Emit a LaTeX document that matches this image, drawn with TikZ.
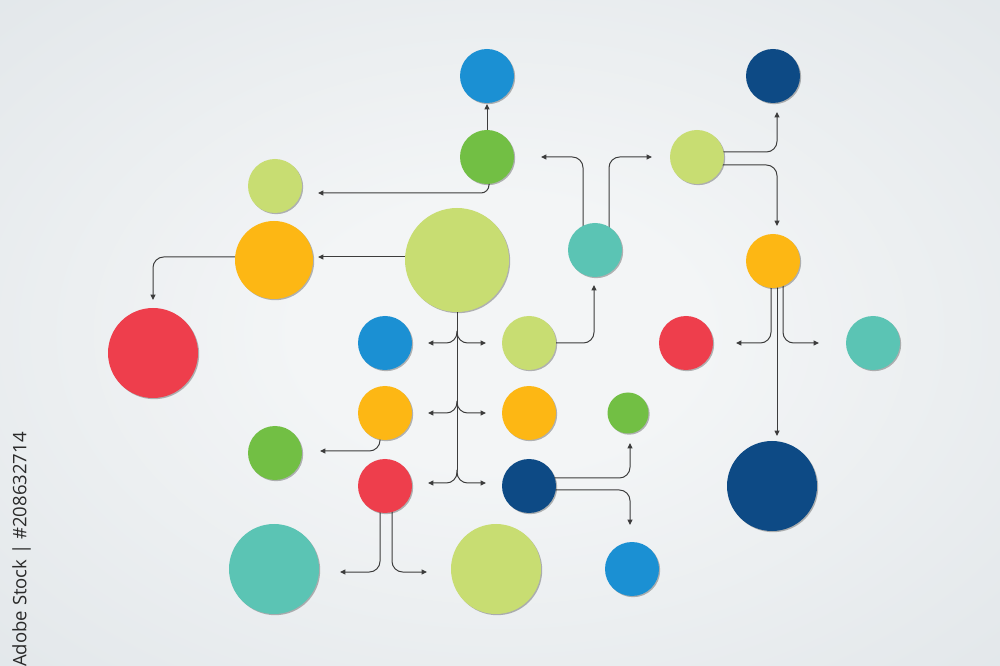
\documentclass[tikz,border=0pt]{standalone}
\usepackage{fontspec}
\newfontfamily\sidefont{Open Sans}
\usetikzlibrary{arrows.meta,shadows}
\definecolor{cLG}{HTML}{C8DD72}
\definecolor{cGreen}{HTML}{72BF44}
\definecolor{cBlue}{HTML}{1B90D3}
\definecolor{cNavy}{HTML}{0D4A85}
\definecolor{cOrange}{HTML}{FDB714}
\definecolor{cRed}{HTML}{EE3E4C}
\definecolor{cTeal}{HTML}{5BC4B4}
\definecolor{wire}{HTML}{3C3C3C}
\definecolor{bgIn}{HTML}{F3F5F6}
\definecolor{bgOut}{HTML}{CCD4DA}
\definecolor{sideText}{HTML}{2A2A2A}
\pgfdeclareradialshading{bgshade}{\pgfpoint{0bp}{0bp}}{color(0bp)=(bgIn); color(10bp)=(bgIn); color(72bp)=(bgOut)}
\pgfdeclarelayer{back}
\pgfdeclarelayer{wires}
\pgfsetlayers{back,wires,main}
\begin{document}
\begin{tikzpicture}[x=0.75pt,y=-0.75pt,
  bub/.style={circle,draw=none,inner sep=0pt,minimum size=#1*1.5pt,
    drop shadow={shadow xshift=0.9pt,shadow yshift=-0.9pt,opacity=0.28,fill=black}},
  conn/.style={draw=wire,line width=0.75pt,rounded corners=8pt,
    -{Triangle[length=4pt,width=3.6pt]}},
  wireline/.style={draw=wire,line width=0.75pt}]
\useasboundingbox (0,0) rectangle (1000,666);
\begin{pgfonlayer}{back}
\shade[shading=bgshade] (0,0) rectangle (1000,666);
\end{pgfonlayer}

% circles
\node[bub=27,fill=cBlue]   (blueTop) at (487,76) {};
\node[bub=27,fill=cGreen]  (greenTop) at (487,157) {};
\node[bub=27,fill=cLG]     (lgTL) at (275,186) {};
\node[bub=52,fill=cLG]     (center) at (457,260) {};
\node[bub=39,fill=cOrange] (orL) at (274,260) {};
\node[bub=45,fill=cRed]    (redL) at (153,353) {};
\node[bub=27,fill=cTeal]   (tealT) at (595,250) {};
\node[bub=27,fill=cLG]     (lgTR) at (697,157) {};
\node[bub=27,fill=cNavy]   (navyTR) at (773,76) {};
\node[bub=27,fill=cOrange] (orR) at (773,261) {};
\node[bub=27,fill=cRed]    (redR) at (686,343) {};
\node[bub=27,fill=cTeal]   (tealR) at (873,343) {};
\node[bub=45,fill=cNavy]   (navyBR) at (772,486) {};
\node[bub=27,fill=cBlue]   (blueM) at (385,343) {};
\node[bub=27,fill=cLG]     (lgM) at (529,343) {};
\node[bub=27,fill=cOrange] (orM1) at (385,413) {};
\node[bub=27,fill=cOrange] (orM2) at (529,413) {};
\node[bub=20.5,fill=cGreen](greenS) at (628,413) {};
\node[bub=27,fill=cGreen]  (greenL) at (275,453) {};
\node[bub=27,fill=cRed]    (redM) at (385,486) {};
\node[bub=27,fill=cNavy]   (navyM) at (529,486) {};
\node[bub=45,fill=cTeal]   (tealB) at (274,569) {};
\node[bub=45,fill=cLG]     (lgB) at (496,569) {};
\node[bub=27,fill=cBlue]   (blueB) at (632,569) {};

% side label
\node[rotate=90,anchor=east,inner sep=0pt,text=sideText,
  font=\sidefont\fontsize{13.9}{14}\selectfont] (side) at (21.5,432) {Adobe Stock | \#208632714};

% arrow end points
\coordinate (aLG) at (318,193);
\coordinate (aOrL) at (318,257);
\coordinate (aRedL) at (153,300);
\coordinate (aTL) at (541,157);
\coordinate (aTR) at (652,157);
\coordinate (aNavyTR) at (777,112);
\coordinate (aOrR) at (777,226);
\coordinate (aRedR) at (736,343);
\coordinate (aTealR) at (819,343);
\coordinate (aNavyBR) at (777,436);
\coordinate (b1) at (457,331);
\coordinate (b2) at (457,401);
\coordinate (tEnd) at (457,470);
\coordinate (aL1) at (428,343);
\coordinate (aR1) at (486,343);
\coordinate (aL2) at (428,413);
\coordinate (aR2) at (486,413);
\coordinate (aL3) at (428,483);
\coordinate (aR3) at (486,483);
\coordinate (aTealT) at (594,285);
\coordinate (aGreenL) at (320,451);
\coordinate (aTealB) at (340,572);
\coordinate (aLgB) at (427,572);
\coordinate (aGreenS) at (630,443);
\coordinate (aBlueB) at (630,525);

\begin{pgfonlayer}{wires}
\draw[conn] (greenTop.north) -- ([yshift=-0.5pt]blueTop.south);
\draw[conn,rounded corners=6pt] (greenTop.center) ++(2,0) |- (aLG);
\draw[conn] (center.center) ++(0,-3) -- (aOrL);
\draw[conn] (orL.center) ++(0,-3) -| (aRedL);
\draw[conn] (tealT.center) ++(-12,0) |- (aTL);
\draw[conn] (tealT.center) ++(14,0) |- (aTR);
\draw[conn] (lgTR.center) ++(0,-5) -| (aNavyTR);
\draw[conn] (lgTR.center) ++(0,8) -| (aOrR);
\draw[conn] (orR.center) ++(-2,0) |- (aRedR);
\draw[conn] (orR.center) ++(10,0) |- (aTealR);
\draw[conn] (orR.center) ++(4,0) -- (aNavyBR);
\draw[wireline] (center.center) -- (tEnd);
\draw[conn] (b1) |- (aL1);
\draw[conn] (b1) |- (aR1);
\draw[conn] (b2) |- (aL2);
\draw[conn] (b2) |- (aR2);
\draw[conn] (tEnd) |- (aL3);
\draw[conn] (tEnd) |- (aR3);
\draw[conn] (lgM.center) -| (aTealT);
\draw[conn] (orM1.center) ++(-5,0) |- (aGreenL);
\draw[conn] (redM.center) ++(-5,0) |- (aTealB);
\draw[conn] (redM.center) ++(7,0) |- (aLgB);
\draw[conn] (navyM.center) ++(0,-8) -| (aGreenS);
\draw[conn] (navyM.center) ++(0,4) -| (aBlueB);
\end{pgfonlayer}
\end{tikzpicture}
\end{document}
